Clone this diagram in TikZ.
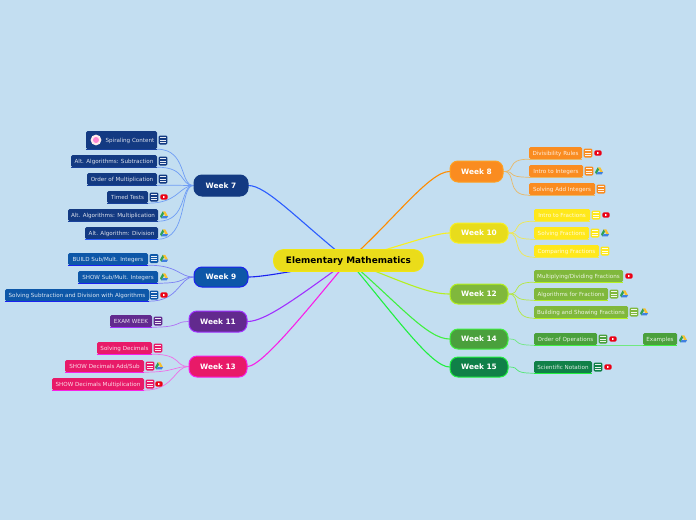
\documentclass[tikz,border=0pt]{standalone}
\usepackage{fontspec}
\setmainfont{DejaVu Sans}
\usetikzlibrary{backgrounds,calc}
\definecolor{bgc}{HTML}{C3DEF1}
\definecolor{cW7}{HTML}{133A82}\definecolor{bW7}{HTML}{2B5CFF}\definecolor{kW7}{HTML}{6F9DF5}
\definecolor{cW9}{HTML}{0D57A8}\definecolor{bW9}{HTML}{1A22F0}\definecolor{kW9}{HTML}{7C80F5}
\definecolor{cWb}{HTML}{622A8E}\definecolor{bWb}{HTML}{A030FF}\definecolor{kWb}{HTML}{B070F5}
\definecolor{cWd}{HTML}{E81A68}\definecolor{bWd}{HTML}{F820E8}\definecolor{kWd}{HTML}{EE70E8}
\definecolor{cWe}{HTML}{FA8C20}\definecolor{bWe}{HTML}{FFA020}\definecolor{kWe}{HTML}{E8B868}
\definecolor{cWt}{HTML}{E8DC1C}\definecolor{bWt}{HTML}{F8F020}\definecolor{kWt}{HTML}{F0E850}
\definecolor{lWt}{HTML}{FFE81A}
\definecolor{cWw}{HTML}{80B83C}\definecolor{bWw}{HTML}{B4F020}\definecolor{kWw}{HTML}{B4E840}
\definecolor{cWf}{HTML}{4AA03C}\definecolor{bWf}{HTML}{40F040}\definecolor{kWf}{HTML}{70E880}
\definecolor{cWv}{HTML}{108048}\definecolor{bWv}{HTML}{20F040}\definecolor{kWv}{HTML}{50E870}
\definecolor{cRoot}{HTML}{EADC1A}
\definecolor{dY}{HTML}{F8C030}\definecolor{dG}{HTML}{2FA055}\definecolor{dB}{HTML}{4080E0}
\tikzset{
  x=1pt,y=-1pt,
  week/.style={rounded corners=8pt,line width=1pt,text=white,font=\bfseries\fontsize{7.4}{9}\selectfont,inner sep=0pt,text depth=0pt},
  leaf/.style={rounded corners=1.5pt,inner sep=0pt,font=\fontsize{5.6}{6.8}\selectfont,text depth=0pt},
  branch/.style={line width=1.1pt,line cap=round},
  twig/.style={line width=.7pt},
  rule/.style={line width=.9pt},
  noteic/.pic={
    \fill[#1,rounded corners=1.2pt] (-4.4,-4.5) rectangle (4.4,4.5);
    \draw[white!90!#1,line width=.85pt] (-2.6,-2.1)--(2.6,-2.1) (-2.6,0)--(2.6,0) (-2.6,2.1)--(2.6,2.1);
  },
  yt/.pic={
    \fill[red!92!blue,rounded corners=1.3pt] (-3.6,-2.6) rectangle (3.6,2.6);
    \fill[white] (-.9,-1.2)--(1.3,0)--(-.9,1.2)--cycle;
  },
  drive/.pic={
    \fill[dY] (-1.3,-3.6)--(1.3,-3.6)--(4,1.2)--(1.4,1.2)--cycle;
    \fill[dG] (-1.3,-3.6)--(0,-1.3)--(-2.7,3.4)--(-4,1.2)--cycle;
    \fill[dB] (-1.4,1.2)--(4,1.2)--(2.7,3.4)--(-2.7,3.4)--cycle;
  },
}
% \leafnode{name}{x1}{x2}{y1}{y2}{fill}{text}{textcolour}{underline}
\newcommand{\leafnode}[9]{%
  \node[leaf,fill=#6,text=#8,minimum width=#3pt-#2pt,minimum height=#5pt-#4pt] (#1) at ({(#2+#3)/2},{(#4+#5)/2}) {#7};
  \draw[rule,color=#9] (#1.south west) -- (#1.south east);
}
\newcommand{\weeknode}[7]{%
  \node[week,fill=#6,draw=#7,minimum width=#3pt-#2pt,minimum height=#5pt-#4pt] (#1) at ({(#2+#3)/2},{(#4+#5)/2}) {Week #1};
}
\newcommand{\ltwig}[3]{\draw[twig,#3] (#1.south east) .. controls +(30,0) and +(-14,0) .. (#2.west);}
\newcommand{\rtwig}[3]{\draw[twig,#3] (#2.east) .. controls +(14,0) and +(-24,0) .. (#1.south west);}
\begin{document}
\begin{tikzpicture}
\useasboundingbox (0,0) rectangle (696,520);
% root
\node[rounded corners=10pt,fill=cRoot,draw=cRoot!70!yellow,line width=.8pt,minimum width=150pt,minimum height=22pt,inner sep=0pt,text depth=0pt,
      font=\bfseries\fontsize{8.9}{10}\selectfont,text=black] (root) at (348.5,260.5) {Elementary Mathematics};
% weeks
\weeknode{7}{194}{248}{175}{196}{cW7}{cW7}
\weeknode{9}{194}{248}{267}{287}{cW9}{bW9}
\weeknode{11}{189}{247}{311}{332}{cWb}{bWb}
\weeknode{13}{189}{247}{356}{377}{cWd}{bWd}
\weeknode{8}{450}{503}{161}{182}{cWe}{bWe}
\weeknode{10}{450}{508}{223}{243}{cWt}{bWt}
\weeknode{12}{450}{508}{284}{304}{cWw}{bWw}
\weeknode{14}{450}{508}{329}{349}{cWf}{bWf}
\weeknode{15}{450}{508}{357}{377}{cWv}{bWv}
% week 7 leaves
\leafnode{a1}{86}{157}{131}{149}{cW7}{\hspace*{17pt}Spiraling Content}{white!85!cW7}{cW7!80!bW7}
\leafnode{a2}{71}{157}{155}{167}{cW7}{Alt. Algorithms: Subtraction}{white!85!cW7}{cW7!80!bW7}
\leafnode{a3}{87}{157}{173}{185}{cW7}{Order of Multiplication}{white!85!cW7}{cW7!80!bW7}
\leafnode{a4}{107}{148}{191}{203}{cW7}{Timed Tests}{white!85!cW7}{cW7!80!bW7}
\leafnode{a5}{68}{158}{209}{221}{cW7}{Alt. Algorithms: Multiplication}{white!85!cW7}{cW7!80!bW7}
\leafnode{a6}{85}{158}{227}{239}{cW7}{Alt. Algorithm: Division}{white!85!cW7}{bW7}
\fill[white!70!pink] (96,140) circle (5.4);
\fill[pink!70!magenta] (96,140) circle (3);
% week 9
\leafnode{b1}{68}{148}{253}{265}{cW9}{BUILD Sub/Mult. Integers}{white!85!cW9}{bW9}
\leafnode{b2}{78}{158}{271}{283}{cW9}{SHOW Sub/Mult. Integers}{white!85!cW9}{bW9}
\leafnode{b3}{5}{149}{289}{301}{cW9}{Solving Subtraction and Division with Algorithms}{white!85!cW9}{bW9}
% week 11
\leafnode{c1}{110}{152}{315}{327}{cWb}{EXAM WEEK}{white!85!cWb}{bWb}
% week 13
\leafnode{d1}{97}{152}{342}{354}{cWd}{Solving Decimals}{white!85!cWd}{bWd}
\leafnode{d2}{65}{144}{360}{372}{cWd}{SHOW Decimals Add/Sub}{white!85!cWd}{bWd}
\leafnode{d3}{52}{144}{378}{390}{cWd}{SHOW Decimals Multiplication}{white!85!cWd}{bWd}
% week 8
\leafnode{e1}{529}{582}{147}{159}{cWe}{Divisibility Rules}{white!85!cWe}{kWe}
\leafnode{e2}{529}{583}{165}{177}{cWe}{Intro to Integers}{white!85!cWe}{kWe}
\leafnode{e3}{529}{595}{183}{195}{cWe}{Solving Add Integers}{white!85!cWe}{kWe}
% week 10
\leafnode{f1}{534}{590}{209}{221}{lWt}{Intro to Fractions}{white!85!lWt}{kWt}
\leafnode{f2}{534}{589}{227}{239}{lWt}{Solving Fractions}{white!85!lWt}{kWt}
\leafnode{f3}{534}{599}{245}{257}{lWt}{Comparing Fractions}{white!85!lWt}{kWt}
% week 12
\leafnode{g1}{534}{623}{270}{282}{cWw}{Multiplying/Dividing Fractions}{white!85!cWw}{bWw}
\leafnode{g2}{534}{608}{288}{300}{cWw}{Algorithms for Fractions}{white!85!cWw}{bWw}
\leafnode{g3}{534}{628}{306}{318}{cWw}{Building and Showing Fractions}{white!85!cWw}{bWw}
% week 14, 15
\leafnode{h1}{534}{597}{333}{345}{cWf}{Order of Operations}{white!85!cWf}{bWf}
\leafnode{h2}{643}{677}{333}{345}{cWf}{Examples}{white!85!cWf}{bWf}
\leafnode{i1}{534}{592}{361}{373}{cWv}{Scientific Notation}{white!85!cWv}{bWv}
% icons
\foreach \x/\y in {163/140,163/161,163/179,154/197} \pic at (\x,\y) {noteic=cW7};
\foreach \x/\y in {154/258.5,154/295} \pic at (\x,\y) {noteic=cW9};
\pic at (158,321) {noteic=cWb};
\foreach \x/\y in {158/348,150/366,150/384} \pic at (\x,\y) {noteic=cWd};
\foreach \x/\y in {588/153,589/171,601/189} \pic at (\x,\y) {noteic=cWe};
\foreach \x/\y in {596/215,595/233,605/251} \pic at (\x,\y) {noteic=lWt};
\foreach \x/\y in {614/294,634/312} \pic at (\x,\y) {noteic=cWw};
\pic at (603,339) {noteic=cWf};
\pic at (598,367) {noteic=cWv};
\foreach \x/\y in {164/197,164/295,159/384,598/153,606/215,629/276,613/339,608/367} \pic at (\x,\y) {yt};
\foreach \x/\y in {164/215,164/233,164/258.5,164/277,159/366,599/171,605/233,624/294,644/312,683/339} \pic at (\x,\y) {drive};
% connectors
\begin{pgfonlayer}{background}
\fill[bgc] (0,0) rectangle (696,520);
\draw[branch,bW7] (7.east) .. controls +(18,0) and +(-50,-40) .. (root.center);
\draw[branch,bW9] (9.east) .. controls +(15,0) and +(-45,9) .. (root.center);
\draw[branch,bWb] (11.east) .. controls +(18,0) and +(-50,36) .. (root.center);
\draw[branch,bWd] (13.east) .. controls +(16,0) and +(-30,35) .. (root.center);
\draw[branch,orange!90!yellow] (8.west) .. controls +(-20,0) and +(45,-40) .. (root.center);
\draw[branch,bWt] (10.west) .. controls +(-14,0) and +(60,-17) .. (root.center);
\draw[branch,bWw] (12.west) .. controls +(-20,0) and +(60,24) .. (root.center);
\draw[branch,bWf] (14.west) .. controls +(-22,0) and +(50,43) .. (root.center);
\draw[branch,bWv] (15.west) .. controls +(-18,0) and +(47,56) .. (root.center);
\foreach \n in {a1,a2,a3,a4,a5,a6} {\ltwig{\n}{7}{kW7}}
\foreach \n in {b1,b2,b3} {\ltwig{\n}{9}{kW9}}
\ltwig{c1}{11}{kWb}
\foreach \n in {d1,d2,d3} {\ltwig{\n}{13}{kWd}}
\foreach \n in {e1,e2,e3} {\rtwig{\n}{8}{kWe}}
\foreach \n in {f1,f2,f3} {\rtwig{\n}{10}{kWt}}
\foreach \n in {g1,g2,g3} {\rtwig{\n}{12}{kWw}}
\rtwig{h1}{14}{kWf}
\rtwig{i1}{15}{kWv}
\draw[twig,kWf] (h1.south east) -- (h2.south west);
\end{pgfonlayer}
\end{tikzpicture}
\end{document}
